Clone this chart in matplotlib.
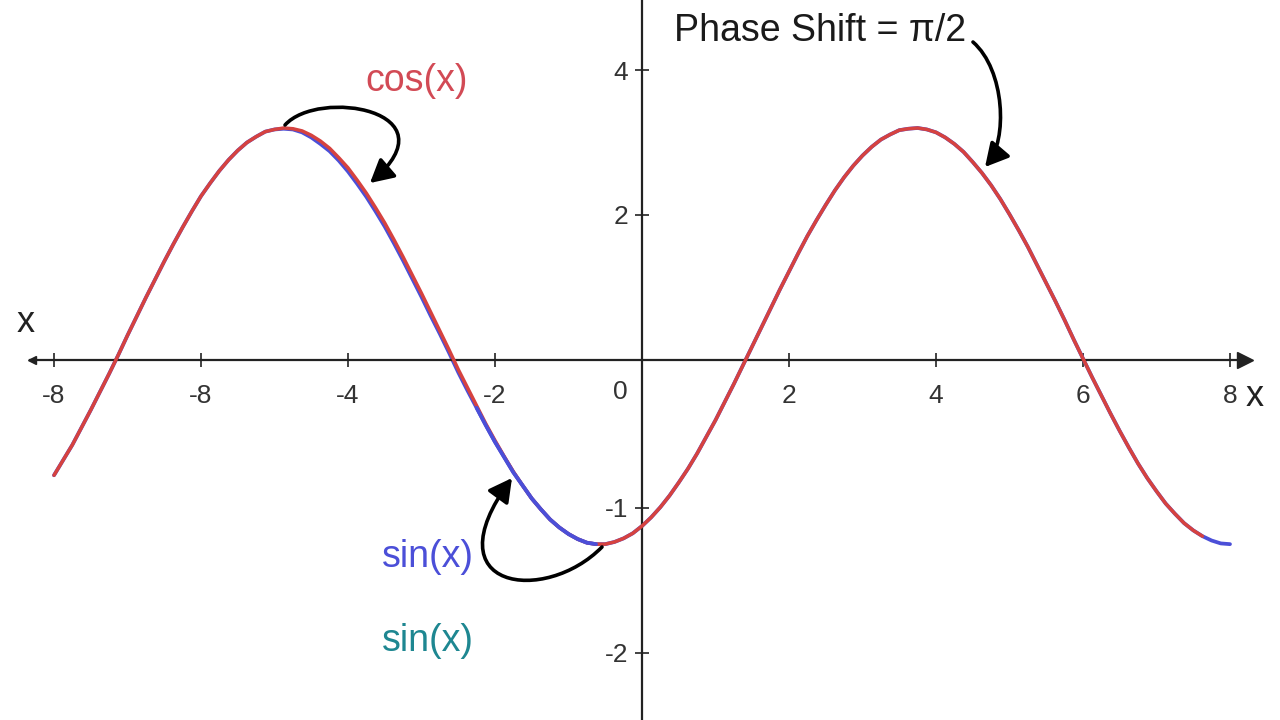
import numpy as np
import matplotlib.pyplot as plt
from matplotlib.path import Path
from matplotlib.patches import FancyArrowPatch

plt.rcParams['font.family'] = ['Liberation Sans', 'DejaVu Sans']

# curve samples, every 0.125 from -8 to 8
x_vals = [-8.000, -7.875, -7.750, -7.625, -7.500, -7.375, -7.250, -7.125,
          -7.000, -6.875, -6.750, -6.625, -6.500, -6.375, -6.250, -6.125,
          -6.000, -5.875, -5.750, -5.625, -5.500, -5.375, -5.250, -5.125,
          -5.000, -4.875, -4.750, -4.625, -4.500, -4.375, -4.250, -4.125,
          -4.000, -3.875, -3.750, -3.625, -3.500, -3.375, -3.250, -3.125,
          -3.000, -2.875, -2.750, -2.625, -2.500, -2.375, -2.250, -2.125,
          -2.000, -1.875, -1.750, -1.625, -1.500, -1.375, -1.250, -1.125,
          -1.000, -0.875, -0.750, -0.625, -0.500, -0.375, -0.250, -0.125,
          0.000, 0.125, 0.250, 0.375, 0.500, 0.625, 0.750, 0.875,
          1.000, 1.125, 1.250, 1.375, 1.500, 1.625, 1.750, 1.875,
          2.000, 2.125, 2.250, 2.375, 2.500, 2.625, 2.750, 2.875,
          3.000, 3.125, 3.250, 3.375, 3.500, 3.625, 3.750, 3.875,
          4.000, 4.125, 4.250, 4.375, 4.500, 4.625, 4.750, 4.875,
          5.000, 5.125, 5.250, 5.375, 5.500, 5.625, 5.750, 5.875,
          6.000, 6.125, 6.250, 6.375, 6.500, 6.625, 6.750, 6.875,
          7.000, 7.125, 7.250, 7.375, 7.500, 7.625, 7.750, 7.875,
          8.000]
cos_vals = [-1.59, -1.38, -1.17, -0.93, -0.69, -0.44, -0.19, 0.07,
            0.34, 0.60, 0.86, 1.11, 1.36, 1.60, 1.83, 2.05,
            2.26, 2.44, 2.61, 2.76, 2.89, 3.00, 3.08, 3.15,
            3.18, 3.20, 3.19, 3.16, 3.10, 3.02, 2.92, 2.79,
            2.65, 2.48, 2.30, 2.10, 1.89, 1.66, 1.42, 1.17,
            0.92, 0.66, 0.40, 0.14, -0.13, -0.38, -0.63, -0.88,
            -1.11, -1.33, -1.54, -1.73, -1.91, -2.06, -2.20, -2.31,
            -2.40, -2.47, -2.52, -2.54, -2.54, -2.51, -2.46, -2.39,
            -2.29, -2.17, -2.03, -1.87, -1.69, -1.50, -1.29, -1.06,
            -0.83, -0.58, -0.33, -0.07, 0.19, 0.45, 0.71, 0.97,
            1.22, 1.47, 1.71, 1.93, 2.14, 2.34, 2.52, 2.68,
            2.82, 2.94, 3.04, 3.11, 3.17, 3.19, 3.20, 3.18,
            3.14, 3.07, 2.98, 2.87, 2.73, 2.58, 2.41, 2.22,
            2.01, 1.79, 1.56, 1.31, 1.06, 0.81, 0.55, 0.28,
            0.02, -0.24, -0.49, -0.74, -0.98, -1.21, -1.43, -1.63,
            -1.81, -1.98, -2.12, -2.25, -2.35, -2.43, -2.49, -2.53,
            -2.54]
sin_vals = [-1.59, -1.38, -1.17, -0.93, -0.69, -0.44, -0.19, 0.07,
            0.34, 0.60, 0.86, 1.11, 1.36, 1.60, 1.83, 2.05,
            2.26, 2.44, 2.61, 2.76, 2.89, 3.00, 3.08, 3.15,
            3.18, 3.19, 3.18, 3.14, 3.07, 2.98, 2.88, 2.75,
            2.60, 2.43, 2.25, 2.05, 1.84, 1.61, 1.37, 1.12,
            0.87, 0.61, 0.36, 0.10, -0.17, -0.42, -0.66, -0.90,
            -1.13, -1.34, -1.55, -1.73, -1.91, -2.06, -2.20, -2.31,
            -2.40, -2.47, -2.52, -2.54, -2.54, -2.51, -2.46, -2.39,
            -2.29, -2.17, -2.03, -1.87, -1.69, -1.50, -1.29, -1.06,
            -0.83, -0.58, -0.33, -0.07, 0.19, 0.45, 0.71, 0.97,
            1.22, 1.47, 1.71, 1.93, 2.14, 2.34, 2.52, 2.68,
            2.82, 2.94, 3.04, 3.11, 3.17, 3.19, 3.20, 3.18,
            3.14, 3.07, 2.98, 2.87, 2.73, 2.58, 2.41, 2.22,
            2.01, 1.79, 1.56, 1.31, 1.06, 0.81, 0.55, 0.28,
            0.02, -0.24, -0.49, -0.74, -0.98, -1.21, -1.43, -1.63,
            -1.81, -1.98, -2.12, -2.25, -2.35, -2.43, -2.49, -2.53,
            -2.54]

x_ticks = [-8, -6, -4, -2, 2, 4, 6, 8]
x_tick_labels = ['-8', '-8', '-4', '-2', '2', '4', '6', '8']
y_ticks = [4, 2, -2.04, -4.04]
y_tick_labels = ['4', '2', '-1', '-2']

red = '#d6423f'
blue = '#4b4fd8'
teal = '#1e8791'
ink = '#222222'

x_arr = np.array(x_vals)
cos_arr = np.array(cos_vals)
sin_arr = np.array(sin_vals)

fig = plt.figure(figsize=(12.8, 7.2), dpi=100)
ax = fig.add_axes([0, 0, 1, 1])
ax.set_xlim(-642 / 73.5, 638 / 73.5)
ax.set_ylim(-360 / 72.5, 360 / 72.5)

# axes through the origin
for side in ['top', 'right']:
    ax.spines[side].set_visible(False)
ax.spines['left'].set_position(('data', 0))
ax.spines['bottom'].set_position(('data', 0))
ax.spines['bottom'].set_bounds(-8.33, 8.2)
for side in ['left', 'bottom']:
    ax.spines[side].set_linewidth(1.6)
    ax.spines[side].set_color(ink)
ax.plot([8.2], [0], marker='>', ms=11, color=ink, clip_on=False, zorder=5)
ax.plot([-8.3], [0], marker='<', ms=6, color=ink, clip_on=False, zorder=5)

ax.set_xticks(x_ticks)
ax.set_xticklabels(x_tick_labels)
ax.set_yticks(y_ticks)
ax.set_yticklabels(y_tick_labels)
ax.tick_params(direction='inout', length=10, width=1.2, color=ink,
               labelsize=19, labelcolor='#333333')
ax.tick_params(axis='x', pad=12)
ax.tick_params(axis='y', pad=5)
ax.annotate('0', xy=(0, 0), xytext=(-22, -32), textcoords='offset pixels',
            ha='center', va='center', fontsize=19, color='#333333')

# curves
ax.plot(x_arr, sin_arr, color=blue, lw=2.7, zorder=2, solid_capstyle='round')
red_part = x_arr <= 7.7
ax.plot(x_arr[red_part], cos_arr[red_part], color=red, lw=2.5, zorder=3,
        solid_capstyle='round')
trough = (x_arr >= -2.3) & (x_arr <= -0.55)
ax.plot(x_arr[trough], sin_arr[trough], color=blue, lw=2.7, zorder=4,
        solid_capstyle='round')

# labels
ax.text(-3.06, 3.85, 'cos(x)', color='#d24a55', fontsize=27,
        ha='center', va='center')
ax.text(-2.91, -2.72, 'sin(x)', color=blue, fontsize=27,
        ha='center', va='center')
ax.text(-2.91, -3.88, 'sin(x)', color=teal, fontsize=27,
        ha='center', va='center')
ax.text(2.42, 4.54, 'Phase Shift = π/2', color='#1a1a1a', fontsize=27,
        ha='center', va='center')
ax.text(-8.39, 0.52, 'x', color=ink, fontsize=26, ha='center', va='center')
ax.text(8.34, -0.5, 'x', color=ink, fontsize=26, ha='center', va='center')

# curved arrows (cubic paths)
arrow_paths = [
    [(-4.857, 3.241), (-4.408, 3.752), (-2.544, 3.448), (-3.701, 2.441)],
    [(-0.544, -2.579), (-1.320, -3.380), (-2.884, -3.172), (-1.769, -1.628)],
    [(4.503, 4.386), (4.939, 4.000), (4.980, 3.034), (4.667, 2.662)],
]
codes = [Path.MOVETO, Path.CURVE4, Path.CURVE4, Path.CURVE4]
for verts in arrow_paths:
    patch = FancyArrowPatch(path=Path(verts, codes),
                            arrowstyle='-|>,head_length=0.5,head_width=0.27',
                            mutation_scale=28, lw=2.6, color='black', zorder=6)
    ax.add_patch(patch)

fig.savefig('out.png', dpi=100)
